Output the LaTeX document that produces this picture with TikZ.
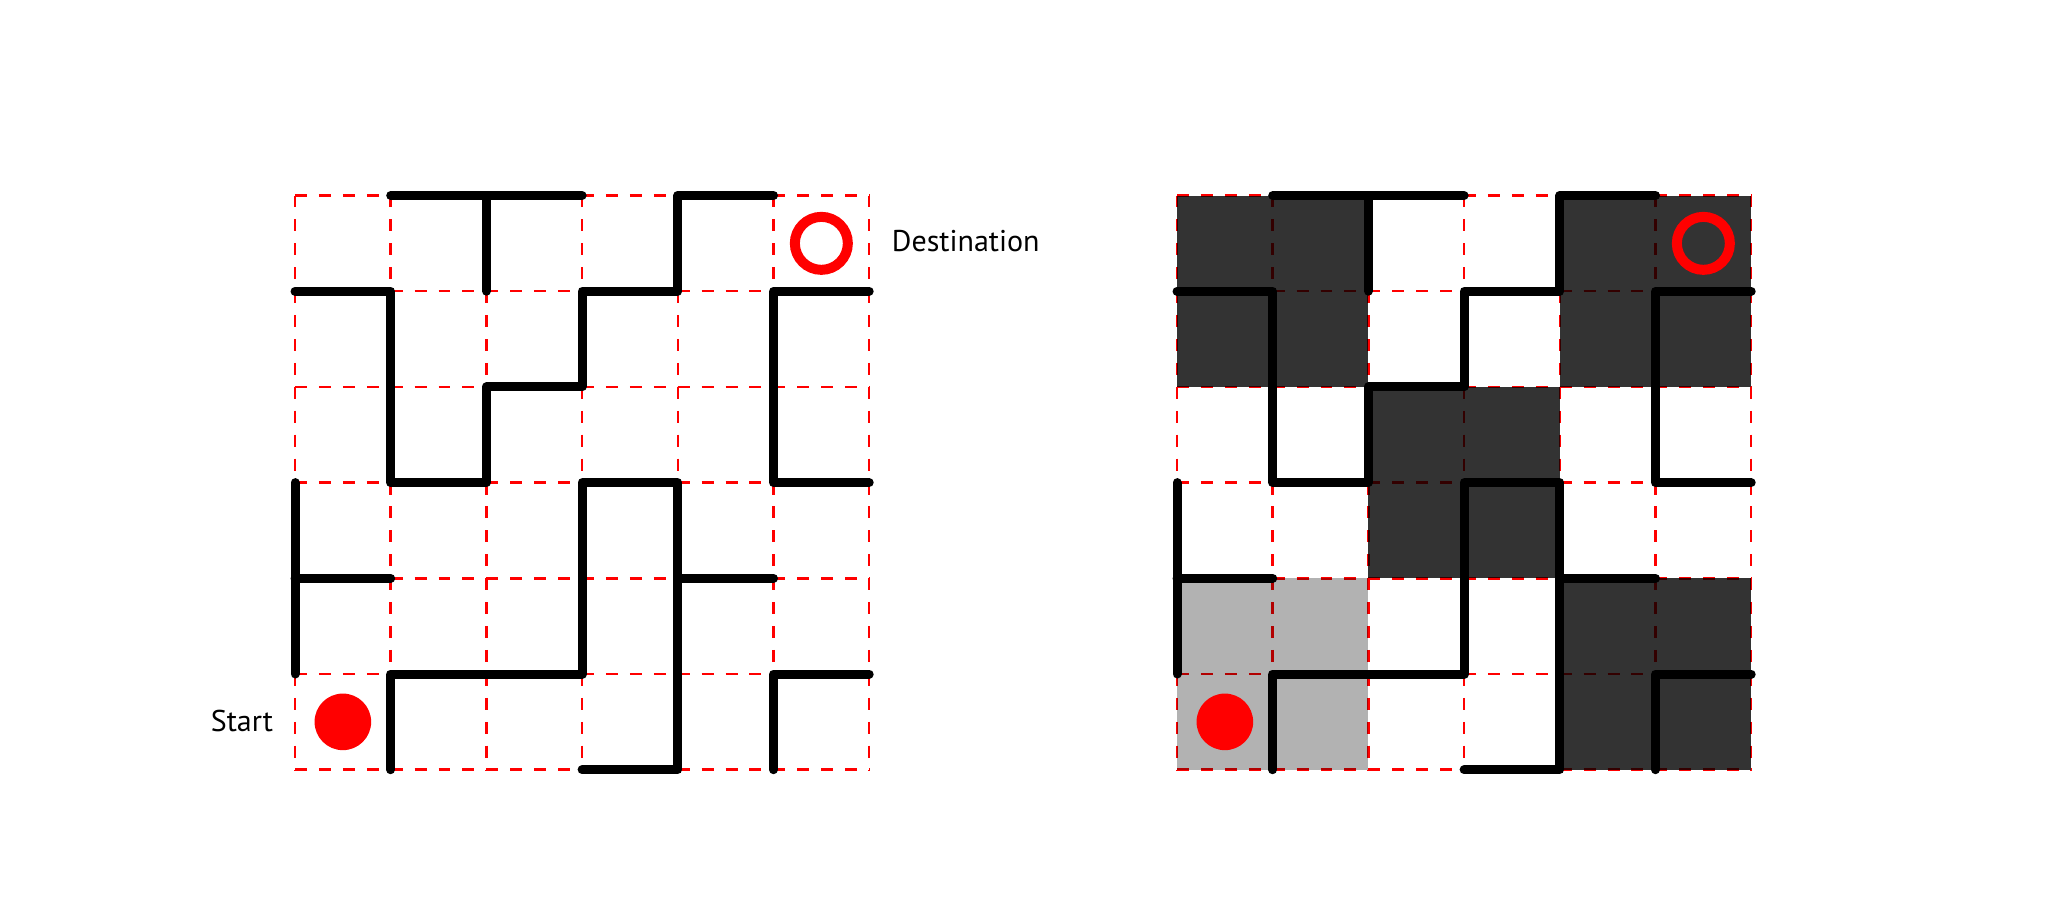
\documentclass[tikz,border=0pt]{standalone}
\usepackage{fontspec}
\setmainfont{PT Sans}
\newcommand\mzgrid{%
  \foreach \i in {0,...,6} {
    \draw[gridline] (\i,0) -- (\i,6);
    \draw[gridline] (0,\i) -- (6,\i);
  }}
\newcommand\mzwalls{%
  \draw[wall] (1,0) -- (3,0);
  \draw[wall] (2,0) -- (2,1);
  \draw[wall] (0,1) -- (1,1) -- (1,3) -- (2,3) -- (2,2) -- (3,2) -- (3,1) -- (4,1) -- (4,0) -- (5,0);
  \draw[wall] (6,1) -- (5,1) -- (5,3) -- (6,3);
  \draw[wall] (0,3) -- (0,5);
  \draw[wall] (0,4) -- (1,4);
  \draw[wall] (1,6) -- (1,5) -- (3,5) -- (3,3) -- (4,3) -- (4,6) -- (3,6);
  \draw[wall] (4,4) -- (5,4);
  \draw[wall] (5,6) -- (5,5) -- (6,5);}
\newcommand\mzmarks{%
  \fill[startdot] (0.5,5.5) circle[radius=28.3pt];
  \draw[goalring] (5.5,0.5) circle[radius=26.5pt];}
\begin{document}
\begin{tikzpicture}[x=1pt,y=-1pt,
  gridline/.style={red, line width=2.5pt, dash pattern=on 11.96pt off 11.96pt},
  wall/.style={black, line width=9pt, line cap=round, line join=round},
  darkcell/.style={fill=black, fill opacity=0.8},
  lightcell/.style={fill=black, fill opacity=0.3},
  startdot/.style={fill=red},
  goalring/.style={draw=red, line width=10pt},
  lbl/.style={font=\fontsize{30}{36}\selectfont, inner sep=0pt, text=black}]
\useasboundingbox (0,0) rectangle (2048,919);
\fill[white] (0,0) rectangle (2048,919);
% left maze
\begin{scope}[shift={(295,195.5)}, x=95.7pt, y=-95.7pt]
  \mzgrid
  \mzwalls
  \mzmarks
\end{scope}
% right maze
\begin{scope}[shift={(1177,195.5)}, x=95.7pt, y=-95.7pt]
  \mzgrid
  \fill[darkcell] (0,0) rectangle (2,2);
  \fill[darkcell] (4,0) rectangle (6,2);
  \fill[darkcell] (2,2) rectangle (4,4);
  \fill[darkcell] (4,4) rectangle (6,6);
  \fill[lightcell] (0,4) rectangle (2,6);
  \mzwalls
  \mzmarks
\end{scope}
\node[lbl, anchor=base west] (dest) at (891.7,251.7) {Destination};
\node[lbl, anchor=base east] (start) at (273.3,731.7) {Start};
\end{tikzpicture}
\end{document}
